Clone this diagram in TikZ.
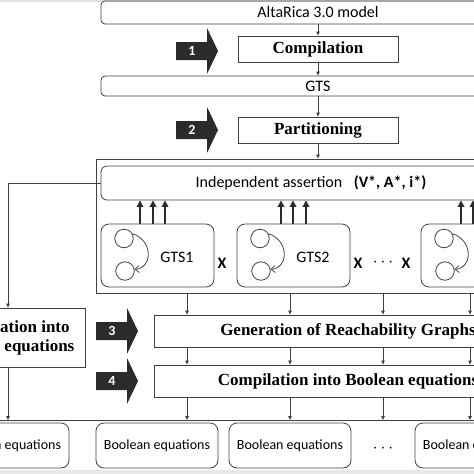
\documentclass[tikz,border=0pt]{standalone}
\usepackage{fontspec}
\setmainfont{Liberation Serif}
\newfontfamily\calfont{Carlito}
\usetikzlibrary{arrows.meta}
\definecolor{ln}{HTML}{404040}
\definecolor{blk}{HTML}{2B2B2B}
\tikzset{
  lnk/.style={draw=ln, line width=0.8pt},
  arr/.style={lnk, -{Triangle[length=4pt,width=3.5pt]}},
  uparr/.style={draw=blk, line width=1.7pt, -{Triangle[length=6.5pt,width=6.5pt]}},
  sbox/.style={draw=ln, line width=0.8pt, rounded corners=4pt, inner sep=0pt, font=\calfont\fontsize{16}{18}\selectfont},
  rbox/.style={draw=ln, line width=0.8pt, inner sep=0pt, font=\bfseries\fontsize{17}{19}\selectfont},
  gbox/.style={draw=ln, line width=0.8pt, rounded corners=8pt, inner sep=0pt, minimum width=113pt, minimum height=63pt},
  bbox/.style={draw=ln, line width=0.8pt, rounded corners=8pt, inner sep=0pt, minimum width=122pt, minimum height=45pt, font=\calfont\fontsize{14}{16}\selectfont},
  stxt/.style={inner sep=0pt, font=\calfont\fontsize{16}{18}\selectfont},
  xtxt/.style={inner sep=0pt, font=\calfont\bfseries\fontsize{16}{18}\selectfont},
  circ/.style={draw=ln, line width=0.8pt, circle, minimum size=18.5pt, inner sep=0pt},
  loop/.style={draw=ln, line width=0.8pt, -{Straight Barb[length=4pt,width=7pt]}},
  blockarr/.style={fill=blk, draw=none},
  numtxt/.style={text=white, inner sep=0pt, font=\calfont\bfseries\fontsize{14}{16}\selectfont}
}
\newcommand\blockarrow[4]{%
  \fill[blockarr] (#1,#2-9) -- (#1+31,#2-9) -- (#1+31,#2-23) -- (#1+42,#2) -- (#1+31,#2+23) -- (#1+31,#2+9) -- (#1,#2+9) -- cycle;
  \node[numtxt] (#4) at (#1+16,#2) {#3};}
\newcommand\gtsunit[2]{%
  \node[gbox] (#2) at (#1+56.5,255.5) {};
  \node[circ] (#2u) at (#1+23,238.5) {};
  \node[circ] (#2l) at (#1+24,271) {};
  \draw[loop] (#2u.30) .. controls (#1+52,240) and (#1+52,268) .. (#2l.10);}
\begin{document}
\begin{tikzpicture}[x=1pt,y=-1pt]
\useasboundingbox (0,0) rectangle (474,474);
\clip (0,0) rectangle (474,474);
\fill[black!12] (0,0) rectangle (474,1.5);
\fill[black!9] (0,470) rectangle (474,474);

% top chain
\node[sbox, minimum width=434pt, minimum height=23pt] (alta) at (318,12.5) {AltaRica 3.0 model};
\node[rbox, minimum width=160pt, minimum height=26pt] (comp) at (318,49) {Compilation};
\node[sbox, minimum width=434pt, minimum height=20pt] (gts) at (318,86) {GTS};
\node[rbox, minimum width=160pt, minimum height=26pt] (part) at (318,130) {Partitioning};
\blockarrow{176}{51}{1}{n1}
\blockarrow{176}{130}{2}{n2}
\draw[arr] (alta.south) -- (comp.north);
\draw[arr] (comp.south) -- (gts.north);
\draw[arr] (gts.south) -- (part.north);

% outer frame
\node[draw=ln, line width=0.8pt, minimum width=444pt, minimum height=134pt, inner sep=0pt] (outer) at (318,226) {};
\draw[arr] (part.south) -- (outer.north -| part.south);
\node[sbox, rounded corners=6pt, minimum width=434pt, minimum height=34pt] (assert) at (318,183) {};
\node[stxt] (asstxt) at (269,183) {Independent assertion};
\node[xtxt] (vai) at (390,183) {(V*, A*, i*)};

\gtsunit{101}{ga}
\gtsunit{237}{gb}
\gtsunit{421}{gc}
\node[stxt] (gat) at (177,257) {GTS1};
\node[stxt] (gbt) at (313,257) {GTS2};
\node[xtxt] (x1) at (222,263) {X};
\node[xtxt] (x2) at (358,263) {X};
\node[stxt] (dd) at (383,263) {$\cdots$};
\node[xtxt] (x3) at (406,263) {X};

\foreach \xx in {140,153,165}{\draw[uparr] (ga.north -| \xx,0) -- (assert.south -| \xx,0);}
\foreach \xx in {281,293,306}{\draw[uparr] (gb.north -| \xx,0) -- (assert.south -| \xx,0);}
\foreach \xx in {461,473,485}{\draw[uparr] (gc.north -| \xx,0) -- (assert.south -| \xx,0);}

% left branch
\node[rbox, minimum width=154pt, minimum height=59pt, align=center, font=\bfseries\fontsize{17}{19}\selectfont] (lbox) at (8,337.5) {Compilation into\\Boolean equations};
\coordinate (lc) at (8,183);
\draw[arr] (assert.west) -- (lc) -- (lbox.north);

% lower stages
\node[rbox, minimum width=388pt, minimum height=32pt] (gen) at (348,331) {Generation of Reachability Graphs};
\node[rbox, minimum width=388pt, minimum height=32pt] (cbe) at (348,381) {Compilation into Boolean equations};
\blockarrow{96}{331}{3}{n3}
\blockarrow{96}{381}{4}{n4}

\coordinate (hl) at (-10,420);
\coordinate (hr) at (484,420);
\draw[lnk] (hl) -- (hr);
\draw[arr] (lbox.south) -- (lbox.south |- hl);
\foreach \xx in {187,290,383,470}{
  \draw[arr] (outer.south -| \xx,0) -- (gen.north -| \xx,0);
  \draw[arr] (gen.south -| \xx,0) -- (cbe.north -| \xx,0);
  \draw[arr] (cbe.south -| \xx,0) -- (hl -| \xx,0);
}

% bottom boxes
\node[bbox] (b0) at (8,445.5) {Boolean equations};
\node[bbox] (b1) at (157,445.5) {Boolean equations};
\node[bbox] (b2) at (290,445.5) {Boolean equations};
\node[stxt] (bd) at (383,449) {$\cdots$};
\node[bbox] (b4) at (476,445.5) {Boolean equations};
\end{tikzpicture}
\end{document}
